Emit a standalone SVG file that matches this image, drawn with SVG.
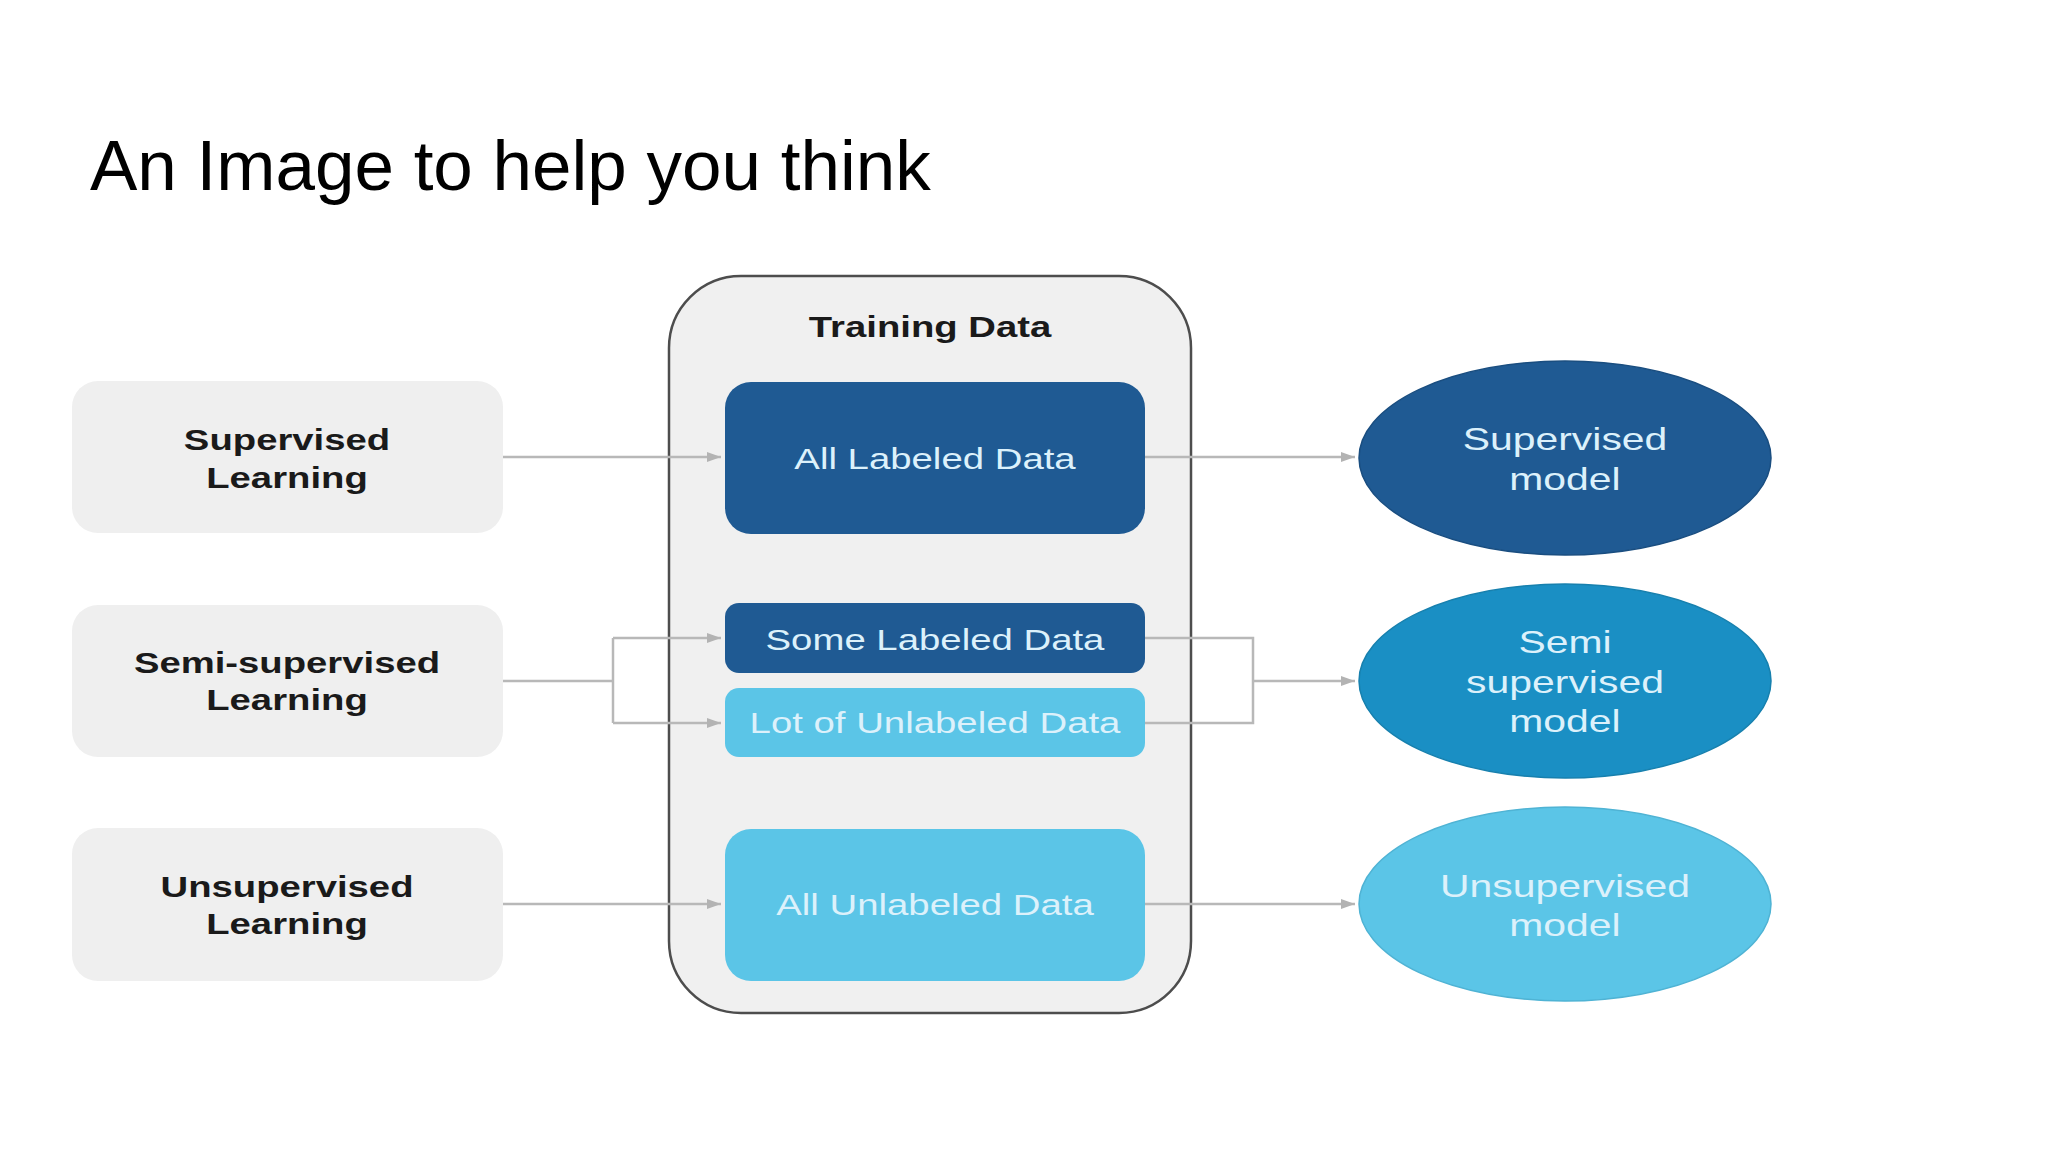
<svg xmlns="http://www.w3.org/2000/svg" width="2048" height="1152" viewBox="0 0 2048 1152">
  <defs>
    <marker id="arr" viewBox="0 0 14 10" refX="14" refY="5" markerWidth="14" markerHeight="10" markerUnits="userSpaceOnUse" orient="auto">
      <path d="M0,0 L14,5 L0,10 z" fill="#b3b3b3"/>
    </marker>
    <style>
      .title { font-family: "Liberation Sans", Arial, sans-serif; font-size: 71px; fill: #000; }
      .lbox { fill: #efefef; }
      .ltxt { font-family: "Liberation Sans", Arial, sans-serif; font-weight: bold; font-size: 29px; fill: #1a1a1a; text-anchor: middle; }
      .cont { fill: #f0f0f0; stroke: #4d4d4d; stroke-width: 2.5; }
      .dark { fill: #1f5a93; }
      .mid { fill: #1a8fc4; }
      .light { fill: #5bc5e7; }
      .dtxt { font-family: "Liberation Sans", Arial, sans-serif; font-size: 29.5px; fill: #dcf1fb; text-anchor: middle; }
      .etxt { font-family: "Liberation Sans", Arial, sans-serif; font-size: 31px; fill: #dcf1fb; text-anchor: middle; }
      .edark { fill: #1f5a93; stroke: #1a4e80; stroke-width: 1.5; }
      .emid { fill: #1a8fc4; stroke: #1780ae; stroke-width: 1.5; }
      .elight { fill: #5bc5e7; stroke: #4fb3d4; stroke-width: 1.5; }
      .conn { fill: none; stroke: #b8b8b8; stroke-width: 2.5; }
    </style>
  </defs>
  <rect width="2048" height="1152" fill="#ffffff"/>

  <text class="title" x="90" y="190">An Image to help you think</text>

  <g id="container">
    <rect class="cont" x="669" y="276" width="522" height="737" rx="72" ry="72"/>
    <text class="ltxt" transform="translate(930,0) scale(1.32,1)" x="0" y="337">Training Data</text>
  </g>

  <g id="supervised-learning">
    <rect class="lbox" x="72" y="381" width="431" height="152" rx="26"/>
    <text class="ltxt" transform="translate(287,0) scale(1.32,1)" x="0" y="450">Supervised</text>
    <text class="ltxt" transform="translate(287,0) scale(1.32,1)" x="0" y="488">Learning</text>
  </g>
  <g id="semi-supervised-learning">
    <rect class="lbox" x="72" y="605" width="431" height="152" rx="26"/>
    <text class="ltxt" transform="translate(287,0) scale(1.32,1)" x="0" y="673">Semi-supervised</text>
    <text class="ltxt" transform="translate(287,0) scale(1.32,1)" x="0" y="710">Learning</text>
  </g>
  <g id="unsupervised-learning">
    <rect class="lbox" x="72" y="828" width="431" height="153" rx="26"/>
    <text class="ltxt" transform="translate(287,0) scale(1.32,1)" x="0" y="897">Unsupervised</text>
    <text class="ltxt" transform="translate(287,0) scale(1.32,1)" x="0" y="934">Learning</text>
  </g>

  <g id="all-labeled-data">
    <rect class="dark" x="725" y="382" width="420" height="152" rx="26"/>
    <text class="dtxt" transform="translate(935,0) scale(1.3,1)" x="0" y="469">All Labeled Data</text>
  </g>
  <g id="some-labeled-data">
    <rect class="dark" x="725" y="603" width="420" height="70" rx="14"/>
    <text class="dtxt" transform="translate(935,0) scale(1.3,1)" x="0" y="650">Some Labeled Data</text>
  </g>
  <g id="lot-of-unlabeled-data">
    <rect class="light" x="725" y="688" width="420" height="69" rx="14"/>
    <text class="dtxt" transform="translate(935,0) scale(1.3,1)" x="0" y="733">Lot of Unlabeled Data</text>
  </g>
  <g id="all-unlabeled-data">
    <rect class="light" x="725" y="829" width="420" height="152" rx="26"/>
    <text class="dtxt" transform="translate(935,0) scale(1.3,1)" x="0" y="915">All Unlabeled Data</text>
  </g>

  <g id="supervised-model">
    <ellipse class="edark" cx="1565" cy="458" rx="206" ry="97"/>
    <text class="etxt" transform="translate(1565,0) scale(1.32,1)" x="0" y="450">Supervised</text>
    <text class="etxt" transform="translate(1565,0) scale(1.32,1)" x="0" y="490">model</text>
  </g>
  <g id="semi-supervised-model">
    <ellipse class="emid" cx="1565" cy="681" rx="206" ry="97"/>
    <text class="etxt" transform="translate(1565,0) scale(1.32,1)" x="0" y="653">Semi</text>
    <text class="etxt" transform="translate(1565,0) scale(1.32,1)" x="0" y="693">supervised</text>
    <text class="etxt" transform="translate(1565,0) scale(1.32,1)" x="0" y="732">model</text>
  </g>
  <g id="unsupervised-model">
    <ellipse class="elight" cx="1565" cy="904" rx="206" ry="97"/>
    <text class="etxt" transform="translate(1565,0) scale(1.32,1)" x="0" y="897">Unsupervised</text>
    <text class="etxt" transform="translate(1565,0) scale(1.32,1)" x="0" y="936">model</text>
  </g>

  <g id="connectors">
    <path class="conn" d="M503,457 H721" marker-end="url(#arr)"/>
    <path class="conn" d="M503,681 H613"/>
    <path class="conn" d="M613,638 V723"/>
    <path class="conn" d="M613,638 H721" marker-end="url(#arr)"/>
    <path class="conn" d="M613,723 H721" marker-end="url(#arr)"/>
    <path class="conn" d="M503,904 H721" marker-end="url(#arr)"/>
    <path class="conn" d="M1145,457 H1355" marker-end="url(#arr)"/>
    <path class="conn" d="M1145,638 H1253 V723 H1145"/>
    <path class="conn" d="M1253,681 H1355" marker-end="url(#arr)"/>
    <path class="conn" d="M1145,904 H1355" marker-end="url(#arr)"/>
  </g>
</svg>
